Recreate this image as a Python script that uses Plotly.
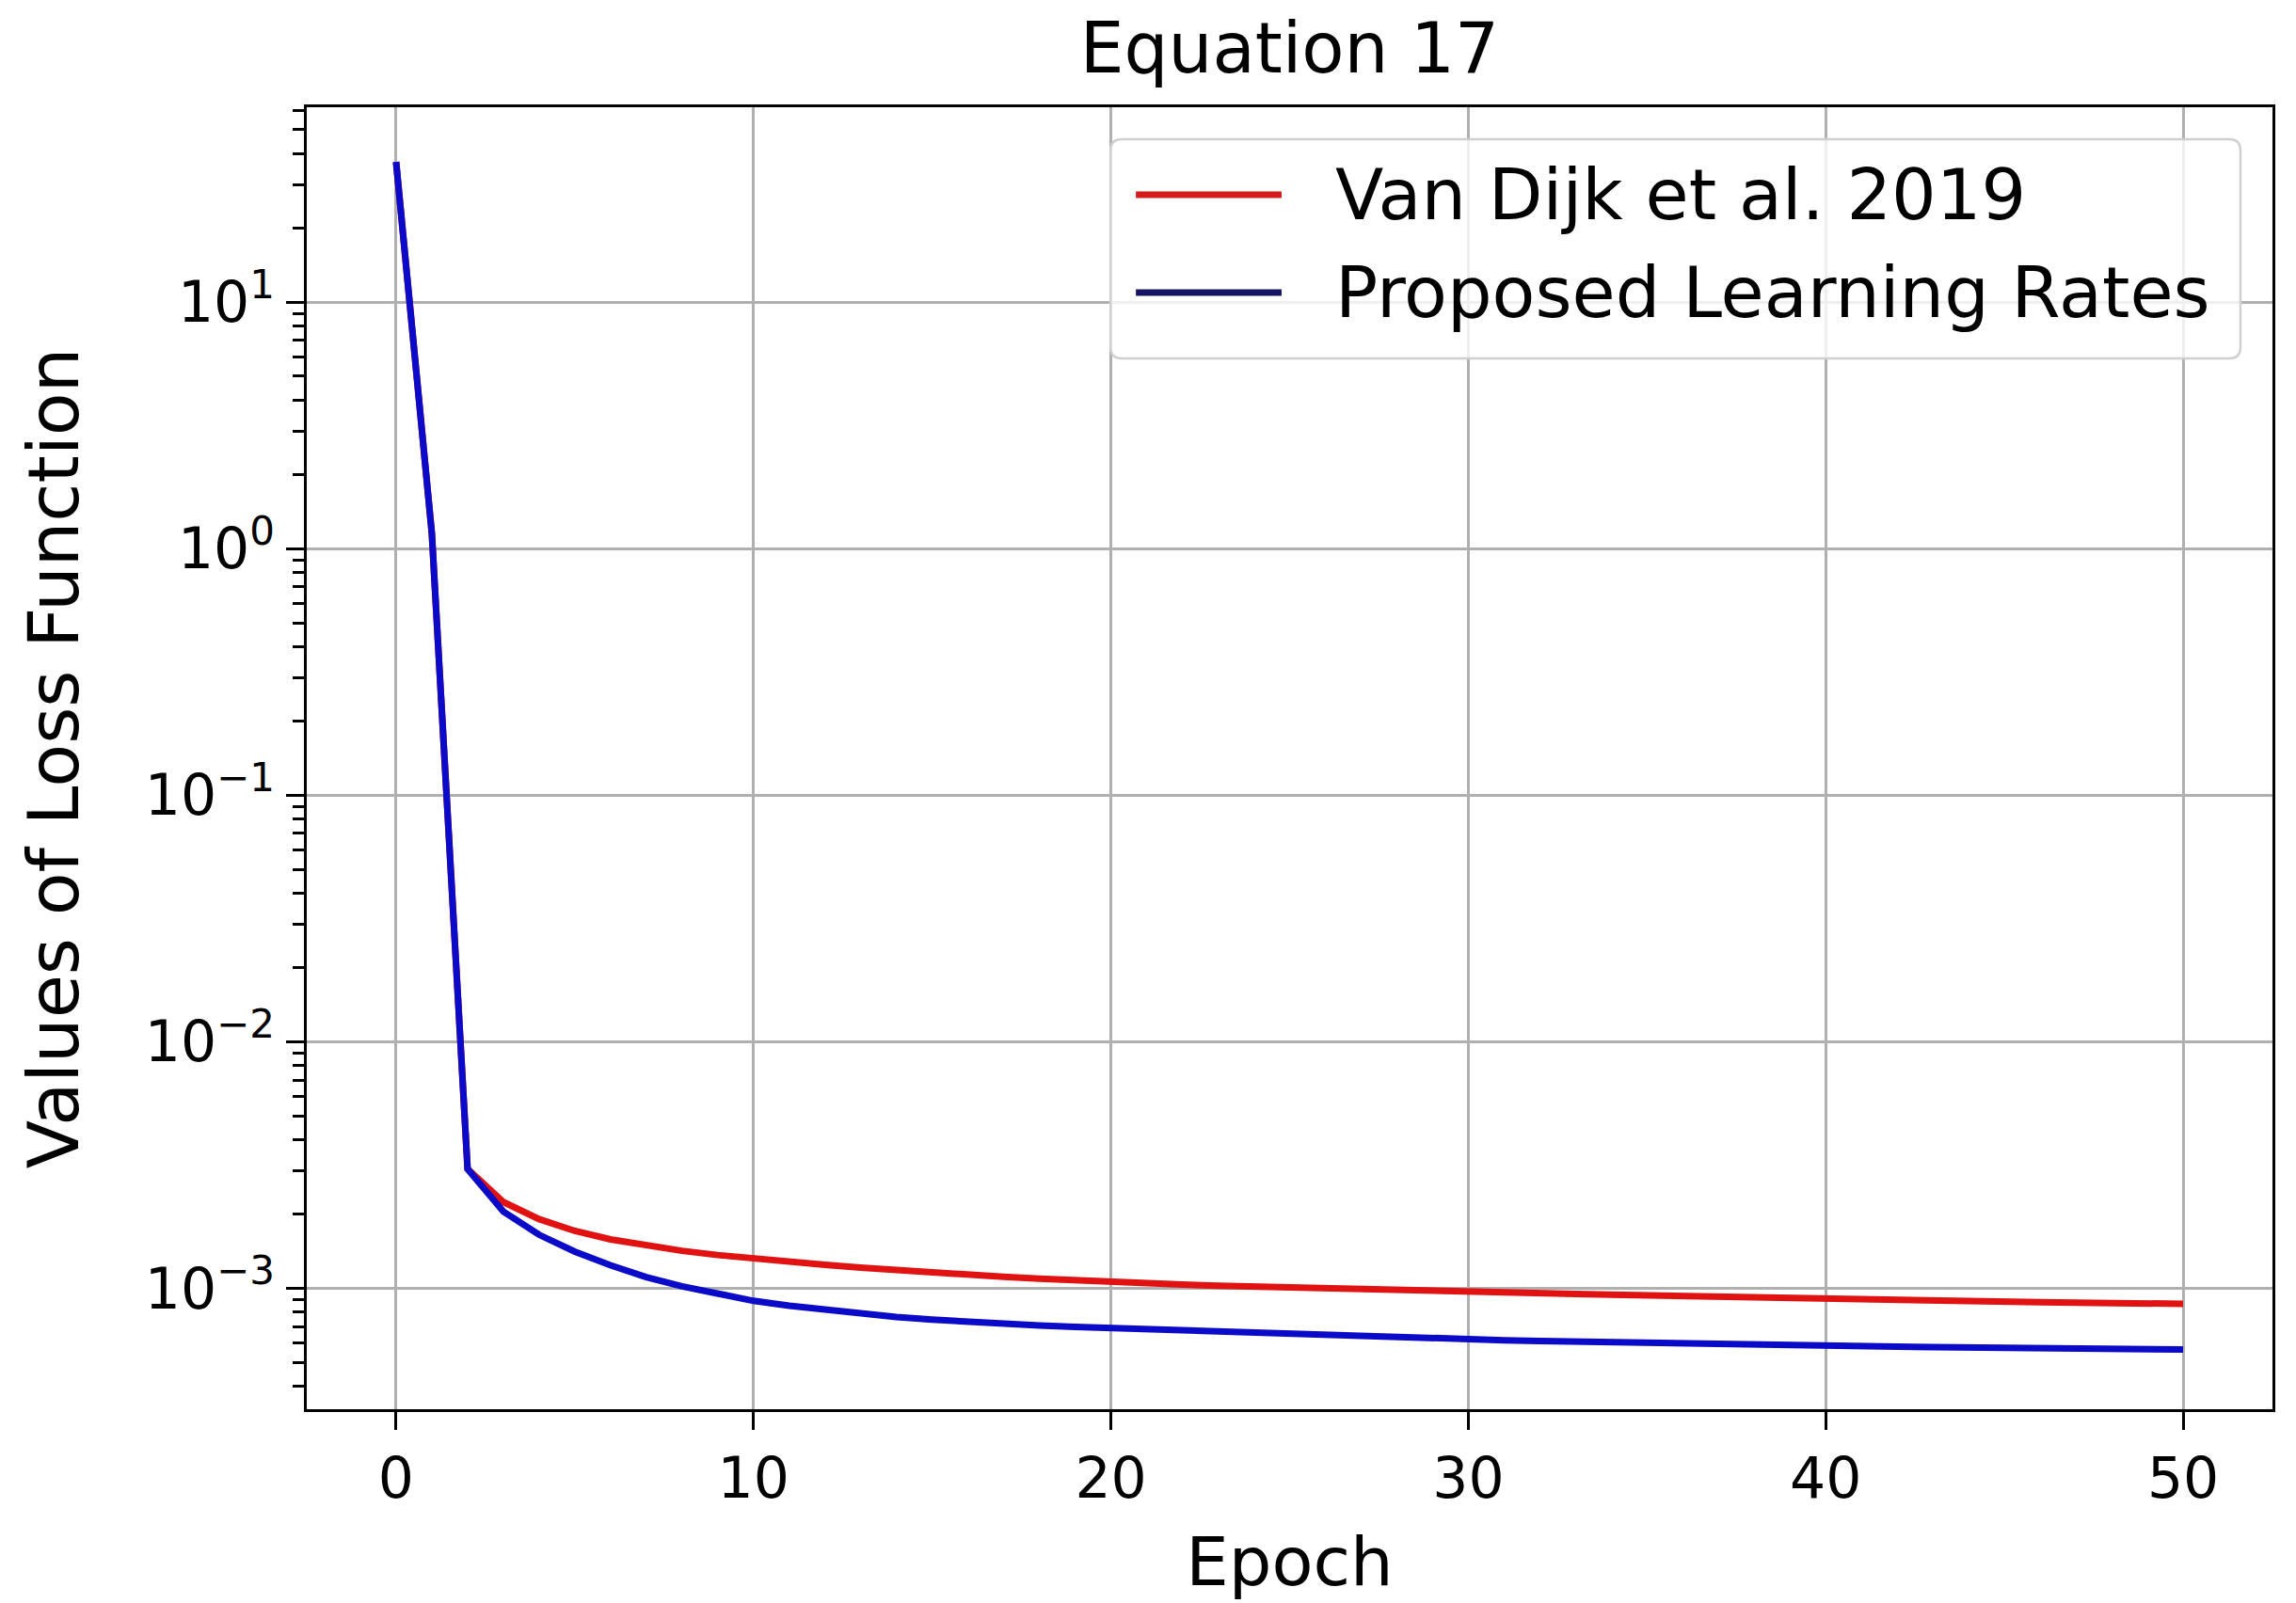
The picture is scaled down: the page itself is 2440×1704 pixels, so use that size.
import plotly.graph_objects as go

# epochs and loss values
epochs = list(range(51))

van_dijk_loss = [
    37.0, 1.15, 3.05e-3, 2.24e-3, 1.91e-3, 1.71e-3, 1.58e-3, 1.49e-3, 1.42e-3, 1.365e-3,
    1.32e-3, 1.28e-3, 1.245e-3, 1.213e-3, 1.184e-3, 1.158e-3, 1.135e-3, 1.114e-3, 1.095e-3, 1.077e-3,
    1.06e-3, 1.048e-3, 1.0365e-3, 1.0255e-3, 1.016e-3, 1.007e-3, 0.9985e-3, 0.9905e-3, 0.983e-3, 0.9755e-3,
    0.9685e-3, 0.9617e-3, 0.955e-3, 0.9484e-3, 0.9419e-3, 0.9355e-3, 0.9292e-3, 0.923e-3, 0.9169e-3, 0.9109e-3,
    0.905e-3, 0.9e-3, 0.8953e-3, 0.8909e-3, 0.8867e-3, 0.8827e-3, 0.8789e-3, 0.8753e-3, 0.8719e-3, 0.8687e-3,
    0.8657e-3,
]

proposed_loss = [
    37.0, 1.15, 3.05e-3, 2.05e-3, 1.65e-3, 1.41e-3, 1.24e-3, 1.11e-3, 1.02e-3, 0.95e-3,
    0.89e-3, 0.85e-3, 0.817e-3, 0.789e-3, 0.766e-3, 0.747e-3, 0.731e-3, 0.718e-3, 0.707e-3, 0.698e-3,
    0.69e-3, 0.6815e-3, 0.6735e-3, 0.6659e-3, 0.6587e-3, 0.6518e-3, 0.6452e-3, 0.6388e-3, 0.6326e-3, 0.6266e-3,
    0.6208e-3, 0.6163e-3, 0.6121e-3, 0.6081e-3, 0.6044e-3, 0.6009e-3, 0.5975e-3, 0.5943e-3, 0.5912e-3, 0.5882e-3,
    0.5853e-3, 0.5828e-3, 0.5804e-3, 0.5782e-3, 0.5761e-3, 0.5741e-3, 0.5722e-3, 0.5704e-3, 0.5687e-3, 0.567e-3,
    0.5654e-3,
]

series_names = ["Van Dijk et al. 2019", "Proposed Learning Rates"]
y_tickvals = [1e-3, 1e-2, 1e-1, 1, 10]
y_ticktext = ["10<sup>\u22123</sup>", "10<sup>\u22122</sup>", "10<sup>\u22121</sup>",
              "10<sup>0</sup>", "10<sup>1</sup>"]

FONT = "DejaVu Sans"
LINE_COLORS = ["#e01212", "#0a0ac8"]
SWATCH_COLORS = ["#d41a1a", "#141464"]

fig = go.Figure()

for name, values, color in zip(series_names, [van_dijk_loss, proposed_loss], LINE_COLORS):
    fig.add_trace(go.Scatter(
        x=epochs, y=values, mode="lines", name=name,
        line=dict(color=color, width=7), showlegend=False,
    ))

axis_common = dict(
    showline=True, linecolor="black", linewidth=3, mirror=True,
    showgrid=True, gridcolor="#b0b0b0", gridwidth=2.5,
    ticks="outside", ticklen=19, tickwidth=3, tickcolor="black",
    tickfont=dict(family=FONT, size=60, color="black"),
    zeroline=False,
)

fig.update_xaxes(
    **axis_common,
    range=[-2.5, 52.5], tickmode="linear", tick0=0, dtick=10,
    title=dict(text="Epoch", font=dict(family=FONT, size=72, color="black"), standoff=30),
)
fig.update_yaxes(
    **axis_common,
    type="log", range=[-3.49, 1.79], tickvals=y_tickvals, ticktext=y_ticktext,
    minor=dict(dtick="D1", ticks="outside", ticklen=12, tickwidth=2.5,
               tickcolor="black", showgrid=False),
    title=dict(text="Values of Loss Function", font=dict(family=FONT, size=75, color="black"),
               standoff=46),
)

# hand-drawn legend box in the matplotlib style (long swatches, rounded frame)
bx0, bx1, by0, by1 = 0.4089, 0.9837, 0.8071, 0.9754
rx, ry = 0.0057, 0.0087
box_path = (
    f"M {bx0 + rx},{by1} L {bx1 - rx},{by1} Q {bx1},{by1} {bx1},{by1 - ry} "
    f"L {bx1},{by0 + ry} Q {bx1},{by0} {bx1 - rx},{by0} "
    f"L {bx0 + rx},{by0} Q {bx0},{by0} {bx0},{by0 + ry} "
    f"L {bx0},{by1 - ry} Q {bx0},{by1} {bx0 + rx},{by1} Z"
)
fig.add_shape(type="path", path=box_path, xref="paper", yref="paper",
              fillcolor="rgba(255,255,255,0.8)", line=dict(color="#d0d0d0", width=2.5),
              layer="above")

row_y = [0.9328, 0.8577]
for name, color, yy in zip(series_names, SWATCH_COLORS, row_y):
    fig.add_shape(type="line", xref="paper", yref="paper",
                  x0=0.4218, x1=0.4959, y0=yy, y1=yy,
                  line=dict(color=color, width=7), layer="above")
    fig.add_annotation(text=name, xref="paper", yref="paper", x=0.5222, y=yy,
                       xanchor="left", yanchor="middle", showarrow=False,
                       font=dict(family=FONT, size=75, color="black"))

fig.update_layout(
    width=2440, height=1704,
    margin=dict(l=318, r=33, t=106, b=214),
    paper_bgcolor="white", plot_bgcolor="white",
    title=dict(text="Equation 17", x=0.5, xref="paper", xanchor="center",
               y=0.975, yref="container", yanchor="middle",
               font=dict(family=FONT, size=74, color="black")),
    showlegend=False,
)

fig.write_html("out.html")
